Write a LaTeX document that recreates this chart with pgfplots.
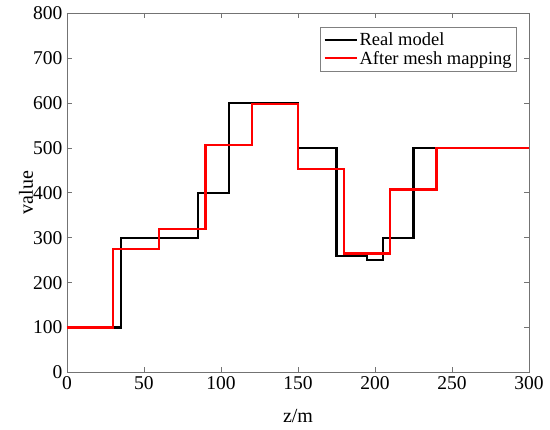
\documentclass[border=0pt]{standalone}
\usepackage{fontspec}
\setmainfont{Liberation Serif}
\usepackage{pgfplots}
\pgfplotsset{compat=1.18}

\begin{document}
\begin{tikzpicture}
\begin{axis}[
    at={(0,0)}, anchor=south west,
    scale only axis,
    width=462pt, height=359.5pt,
    xmin=0, xmax=300,
    ymin=0, ymax=800,
    xtick={0,50,...,300},
    ytick={0,100,...,800},
    axis line style={draw=gray!90!black, line width=0.6pt},
    tick style={draw=gray!90!black, line width=0.6pt},
    tick align=inside,
    major tick length=5pt,
    /pgf/number format/assume math mode=true,
    ticklabel style={font=\fontsize{19.5}{22}\selectfont},
    xticklabel style={yshift=-1pt},
    yticklabel style={xshift=-1pt},
    xlabel={z/m},
    ylabel={value},
    label style={font=\fontsize{20}{23}\selectfont},
    xlabel style={at={(axis description cs:0.5,0)}, anchor=center, yshift=-44pt},
    ylabel style={at={(axis description cs:0,0.5)}, anchor=center, yshift=41pt},
    legend cell align=left,
    legend style={
        at={(1,1)}, anchor=north east,
        xshift=-12pt, yshift=-14pt,
        draw=gray, line width=0.6pt,
        font=\fontsize{18.5}{21}\selectfont,
        inner xsep=3pt, inner ysep=3.5pt,
        row sep=0pt,
    },
    legend image code/.code={\draw[#1, line width=2.2pt] (0pt,0pt) -- (32pt,0pt);},
]
\addplot[black, line width=2.2pt, const plot] coordinates {
    (0,100) (35,300) (85,400) (105,600) (150,500) (175,260)
    (195,250) (205,300) (225,500) (300,500)
};
\addplot[red, line width=2.2pt, const plot] coordinates {
    (0,100) (30,274) (60,320) (90,507) (120,597) (150,452)
    (180,265) (210,407) (240,500) (300,500)
};
\legend{Real model, After mesh mapping}
\end{axis}
\path[use as bounding box] (-67pt,-57.5pt) rectangle (483pt,372.5pt);
\end{tikzpicture}
\end{document}
